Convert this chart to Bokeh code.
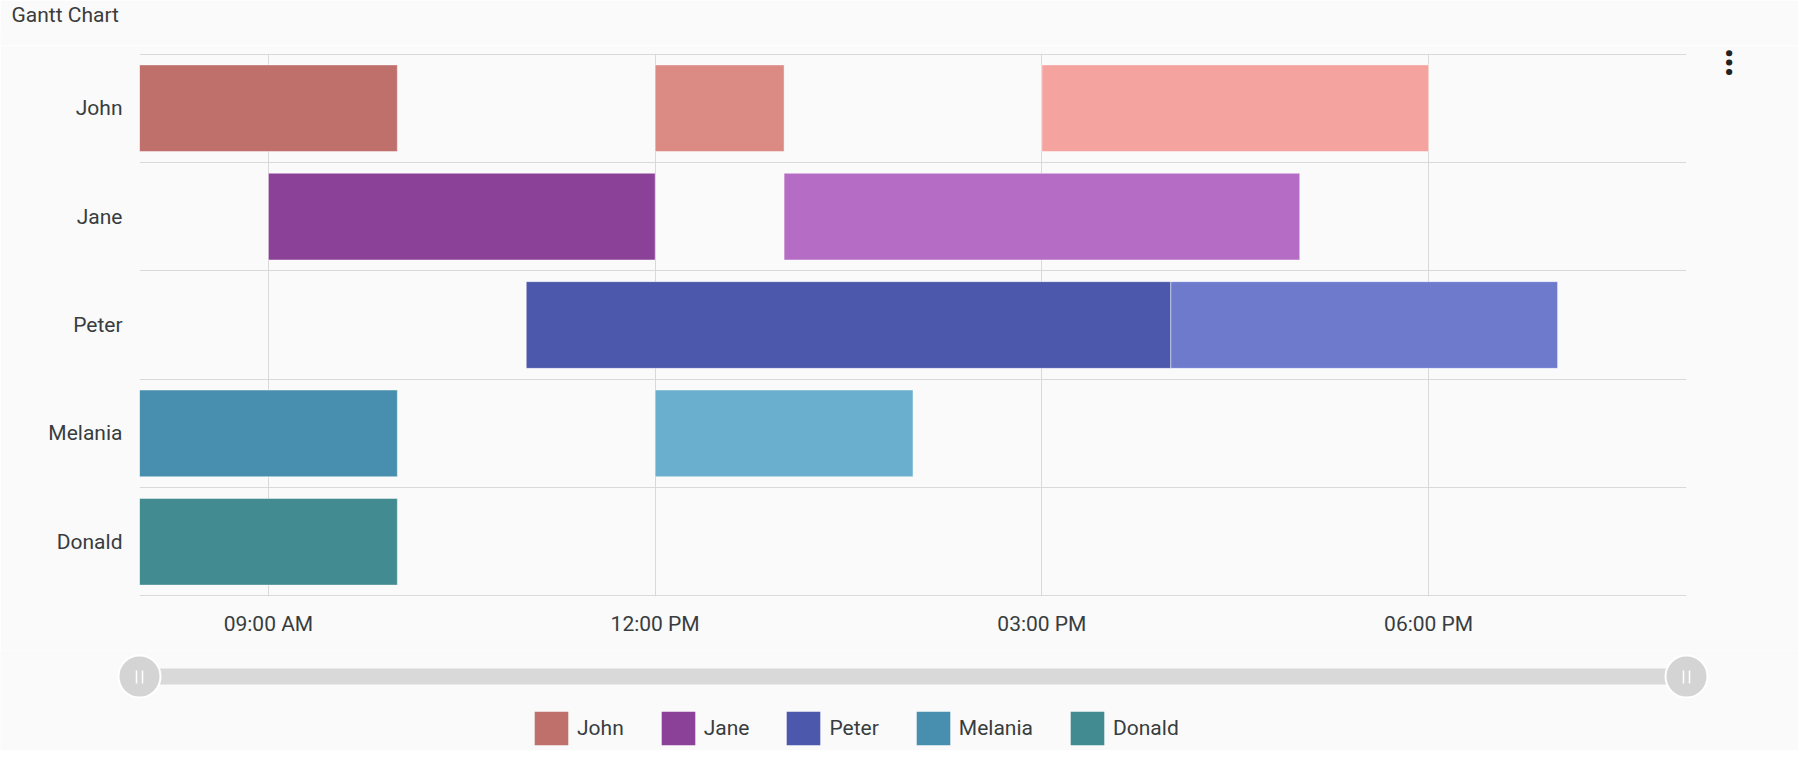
import pandas as pd
from bokeh.plotting import figure
from bokeh.models import (ColumnDataSource, FactorRange, Range1d, FixedTicker,
                          DatetimeTickFormatter, Title, Legend, LegendItem)
from bokeh.layouts import column
from bokeh.embed import file_html
from bokeh.resources import INLINE

day = "2019-03-05"

people = ["John", "Jane", "Peter", "Melania", "Donald"]
people_colors = ["#c0706a", "#8b4198", "#4b58ab", "#488eae", "#418b91"]

task_person = ["John", "John", "John", "Jane", "Jane", "Peter", "Peter", "Melania", "Melania", "Donald"]
task_start = ["08:00", "12:00", "15:00", "09:00", "13:00", "11:00", "16:00", "08:00", "12:00", "08:00"]
task_end = ["10:00", "13:00", "18:00", "12:00", "17:00", "16:00", "19:00", "10:00", "14:00", "10:00"]
task_color = ["#c0706a", "#dc8b84", "#f4a39e", "#8b4198", "#b56cc4",
              "#4b58ab", "#6e7bcd", "#488eae", "#6aafce", "#418b91"]

axis_start = "08:00"
axis_end = "20:00"
tick_times = ["09:00", "12:00", "15:00", "18:00"]

font = "Roboto"
fsize = "21px"
text_color = "#373d3f"
bg = "#fafafa"
grid_color = "#d9d9d9"

W = 1798
left_b, right_b = 139, 112
frame_w = W - left_b - right_b
H0, H1, H2 = 45, 605, 100


def ts(t):
	return pd.Timestamp(f"{day} {t}")


def ms(t):
	return ts(t).value / 1e6


def blank(fig):
	fig.frame_align = False
	fig.background_fill_color = bg
	fig.border_fill_color = bg
	fig.outline_line_color = None


# header with the chart title
head = figure(width=W, height=H0, output_backend="svg", toolbar_location=None,
	min_border=0, x_axis_location=None, y_axis_location=None)
blank(head)
head.grid.visible = False
head.title = Title(text="Gantt Chart", align="left", vertical_align="top", offset=11, standoff=5, padding=0,
	text_font=font, text_font_size=fsize, text_font_style="normal", text_color="#3c3c3c")

src = ColumnDataSource(data=dict(
	person=task_person,
	start=[ts(t) for t in task_start],
	end=[ts(t) for t in task_end],
	color=task_color,
))

p = figure(x_axis_type="datetime", y_range=FactorRange(factors=people[::-1], range_padding=0.002),
	x_range=Range1d(ts(axis_start), ts(axis_end)),
	width=W, height=H1, output_backend="svg", toolbar_location=None,
	min_border_left=left_b, min_border_right=right_b, min_border_top=8, min_border_bottom=54)
blank(p)

# menu icon
p.add_layout(Title(text="\u2022\u2022\u2022", align="left", offset=-5, standoff=55, text_font=font,
	text_font_size="26px", text_font_style="bold", text_color="#222222"), "right")

p.hbar(y="person", left="start", right="end", height=0.8, fill_color="color",
	line_color="white", line_alpha=0.45, line_width=1, source=src)

p.xaxis.ticker = FixedTicker(ticks=[ms(t) for t in tick_times])
fmt = "%I:%M %p"
p.xaxis.formatter = DatetimeTickFormatter(minutes=fmt, hourmin=fmt, hours=fmt, days=fmt, months=fmt, years=fmt)
p.xgrid.ticker = FixedTicker(ticks=[ms(t) for t in tick_times])
p.ygrid.ticker = FixedTicker(ticks=list(range(len(people) + 1)))
p.grid.grid_line_color = grid_color
p.grid.grid_line_width = 1

for ax in (p.xaxis, p.yaxis):
	ax.axis_line_color = None
	ax.major_tick_line_color = None
	ax.minor_tick_line_color = None
	ax.major_tick_out = 0
	ax.major_label_text_font = font
	ax.major_label_text_font_size = fsize
	ax.major_label_text_color = text_color
p.xaxis.major_label_standoff = 15
p.yaxis.major_label_standoff = 17

# navigator strip and legend
t0, t1 = ms(axis_start), ms(axis_end)
mspp = (t1 - t0) / frame_w
nav = figure(width=W, height=H2, output_backend="svg", toolbar_location=None,
	x_range=Range1d(t0 - left_b * mspp, t1 + right_b * mspp), y_range=Range1d(H2, 0),
	min_border=0, x_axis_location=None, y_axis_location=None)
blank(nav)
nav.grid.visible = False

nav.hbar(y=[26], left=[t0], right=[t1], height=15, color="#d9d9d9")
nav.scatter(x=[t0, t1], y=[26, 26], size=42, fill_color="#d4d4d4", line_color="white", line_width=2)
grip = [t0 - 3 * mspp, t0 + 3 * mspp, t1 - 3 * mspp, t1 + 3 * mspp]
nav.segment(x0=grip, y0=[20] * 4, x1=grip, y1=[33] * 4, line_color="white", line_width=1.5)

items = []
for name, c in zip(people, people_colors):
	r = nav.hbar(y=[-100], left=[t0], right=[t0], height=1, fill_color=c, line_color=None)
	items.append(LegendItem(label=name, renderers=[r]))

legend = Legend(items=items, orientation="horizontal", location=(530, 1), padding=0, margin=0,
	spacing=33, label_standoff=5, glyph_width=42, glyph_height=42,
	background_fill_alpha=0, border_line_alpha=0,
	label_text_font=font, label_text_font_size=fsize, label_text_color=text_color)
nav.add_layout(legend)

layout = column(head, p, nav, spacing=0)
open("out.html", "w").write(file_html(layout, INLINE))
